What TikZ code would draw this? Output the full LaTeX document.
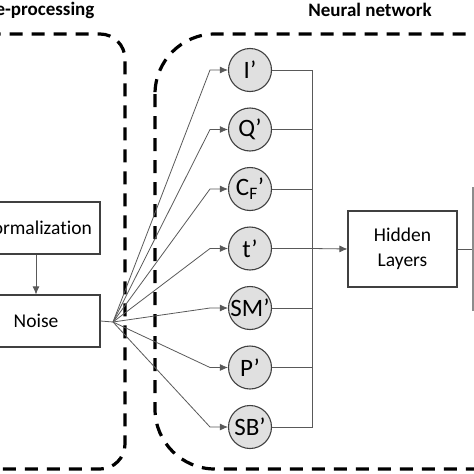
\documentclass[tikz,border=0pt]{standalone}
\usepackage{fontspec}
\setmainfont[Ligatures=NoCommon]{Carlito}
\usetikzlibrary{arrows.meta}
\begin{document}
\begin{tikzpicture}[x=1pt,y=-1pt,
  group/.style={draw=black,line width=3.2pt,dash pattern=on 13pt off 9pt},
  title/.style={font=\bfseries\fontsize{19}{22}\selectfont,anchor=base},
  box/.style={draw=black!75,line width=1.1pt,fill=white,font=\fontsize{19.5}{25}\selectfont,align=center,inner sep=0pt},
  neuron/.style={circle,draw=black!75,line width=1.1pt,fill=black!12,minimum size=43pt,inner sep=0pt,font=\fontsize{25}{28}\selectfont},
  conn/.style={draw=black!65,line width=0.8pt},
  arr/.style={conn,-{Latex[length=8pt,width=7pt]}}]
\useasboundingbox (0,0) rectangle (474,474);
% group frames
\draw[group,rounded corners=25pt] (-60,34) rectangle (125,469);
\draw[group,rounded corners=60pt] (155,34) rectangle (560,469);
\node[title,anchor=base east] (tpre) at (98,15) {Pre-processing};
\node[title] (tnn) at (370,16) {Neural network};
% pre-processing boxes
\node[box,minimum width=128pt,minimum height=52pt] (norm) at (36,228) {Normalization};
\node[box,minimum width=128pt,minimum height=52pt] (noise) at (36,321) {Noise};
\draw[arr] (norm.south) -- (noise.north);
% neurons
\foreach \n/\lab [count=\i from 0] in {n1/{I’},n2/{Q’},n3/{C\textsubscript{F}’},n4/{t’},n5/{SM’},n6/{P’},n7/{SB’}}{
  \node[neuron] (\n) at (250,70+59.5*\i) {\lab};
}
% fan
\coordinate (fan) at (113,322);
\draw[conn] (noise.east) -- (fan);
\foreach \n in {n1,n2,n3,n4,n5,n6,n7}{
  \draw[arr] (fan) -- (\n.west -| 210,0) -- (\n.west);
}
% bus
\coordinate (bustop) at (312,70);
\coordinate (busbot) at (312,427.5);
\foreach \n in {n1,n2,n3,n4,n5,n6,n7}{
  \draw[conn] (\n.east) -- (\n.east -| bustop);
}
\draw[conn] (bustop) -- (busbot);
% hidden layers
\node[box,minimum width=109pt,minimum height=76pt] (hid) at (402.5,249) {Hidden\\Layers};
\draw[arr] (n4.east -| bustop) -- (hid.west);
% output box edge (clipped)
\node[draw=black!45,line width=2.5pt,minimum width=80pt,minimum height=122pt,inner sep=0pt] (out) at (513,249) {};
\draw[conn] (hid.east) -- (out.west);
\end{tikzpicture}
\end{document}
